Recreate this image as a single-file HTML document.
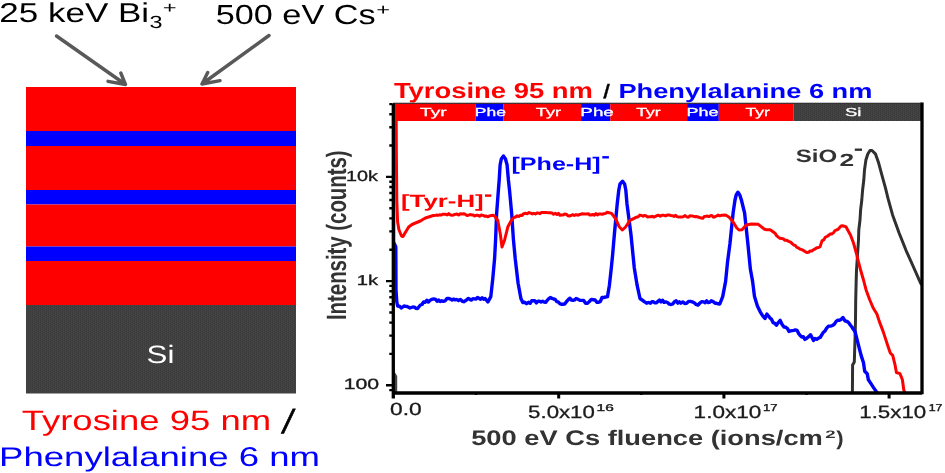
<!DOCTYPE html>
<html><head><meta charset="utf-8"><title>ToF-SIMS depth profile</title>
<style>
html,body{margin:0;padding:0;background:#fff;width:945px;height:473px;overflow:hidden}
svg{display:block}
text{font-family:"Liberation Sans", Arial, sans-serif;text-rendering:geometricPrecision}
</style></head><body>
<svg width="945" height="473" viewBox="0 0 945 473">
<defs><pattern id="dots" width="4" height="2" patternUnits="userSpaceOnUse"><rect width="4" height="2" fill="#434343"/><rect x="0" y="0" width="1" height="1" fill="#383838"/><rect x="2" y="1" width="1" height="1" fill="#383838"/></pattern><clipPath id="pc"><rect x="393" y="121" width="529" height="272.5"/></clipPath></defs>
<rect width="945" height="473" fill="#fff"/>
<path d="M56.5,36 L125.5,84.5 M120.8,73 L125.5,84.5 L108,81.3" fill="none" stroke="#595959" stroke-width="3.4" stroke-linecap="round" stroke-linejoin="round"/>
<path d="M269,35.5 L202,84 M207.7,72.5 L202,84 L220,80.6" fill="none" stroke="#595959" stroke-width="3.4" stroke-linecap="round" stroke-linejoin="round"/>
<rect x="26" y="87" width="270" height="44" fill="#ff0000"/>
<rect x="26" y="131" width="270" height="15" fill="#0000ff"/>
<rect x="26" y="146" width="270" height="44" fill="#ff0000"/>
<rect x="26" y="190" width="270" height="14.5" fill="#0000ff"/>
<rect x="26" y="204.5" width="270" height="42.0" fill="#ff0000"/>
<rect x="26" y="246.5" width="270" height="14.5" fill="#0000ff"/>
<rect x="26" y="261" width="270" height="44" fill="#ff0000"/>
<rect x="26" y="305" width="270" height="88.5" fill="url(#dots)"/>
<text x="-0.75" y="21.90" style="font-size:27.20px;fill:#000" textLength="149.83" lengthAdjust="spacingAndGlyphs">25 keV Bi</text>
<text x="149.52" y="27.92" style="font-size:17.67px;fill:#000" textLength="13.00" lengthAdjust="spacingAndGlyphs">3</text>
<text x="162.87" y="12.49" style="font-size:15.92px;fill:#000" textLength="13.90" lengthAdjust="spacingAndGlyphs">+</text>
<text x="215.73" y="23.80" style="font-size:27.49px;fill:#000" textLength="159.85" lengthAdjust="spacingAndGlyphs">500 eV Cs</text>
<text x="376.28" y="15.09" style="font-size:15.92px;fill:#000" textLength="13.78" lengthAdjust="spacingAndGlyphs">+</text>
<text x="146.59" y="363.35" style="font-size:25.17px;fill:#fff" textLength="27.79" lengthAdjust="spacingAndGlyphs">Si</text>
<text x="21.68" y="430.20" style="font-size:28.07px;fill:#ff0000" textLength="249.45" lengthAdjust="spacingAndGlyphs">Tyrosine 95 nm</text>
<text transform="translate(281.37,432.97) skewX(-11.55)" x="0" y="0" style="font-size:33.20px;fill:#000;stroke:#000;stroke-width:0.7px">/</text>
<text x="-0.91" y="466.00" style="font-size:27.05px;fill:#0000ff" textLength="320.84" lengthAdjust="spacingAndGlyphs">Phenylalanine 6 nm</text>
<text x="393.93" y="98.30" style="font-size:21.67px;font-weight:bold;fill:#ff0000" textLength="198.97" lengthAdjust="spacingAndGlyphs">Tyrosine 95 nm</text>
<text transform="translate(603.24,98.11) skewX(-5.08)" x="0" y="0" style="font-size:19.46px;font-weight:bold;fill:#000;stroke:#000;stroke-width:0.4px">/</text>
<text x="618.46" y="98.20" style="font-size:20.36px;font-weight:bold;fill:#0000ff" textLength="253.92" lengthAdjust="spacingAndGlyphs">Phenylalanine 6 nm</text>
<rect x="393" y="103.5" width="82.70" height="17.5" fill="#ff0000"/>
<rect x="475.7" y="103.5" width="27.60" height="17.5" fill="#0000ff"/>
<rect x="503.3" y="103.5" width="77.80" height="17.5" fill="#ff0000"/>
<rect x="581.1" y="103.5" width="29.20" height="17.5" fill="#0000ff"/>
<rect x="610.3" y="103.5" width="76.80" height="17.5" fill="#ff0000"/>
<rect x="687.1" y="103.5" width="31.70" height="17.5" fill="#0000ff"/>
<rect x="718.8" y="103.5" width="74.50" height="17.5" fill="#ff0000"/>
<rect x="793.3" y="103.5" width="128.70" height="17.5" fill="url(#dots)"/>
<text x="420.07" y="116.10" style="font-size:11.64px;fill:#fff;stroke:#fff;stroke-width:0.3px" textLength="26.44" lengthAdjust="spacingAndGlyphs">Tyr</text>
<text x="474.86" y="116.10" style="font-size:11.64px;fill:#fff;stroke:#fff;stroke-width:0.3px" textLength="31.12" lengthAdjust="spacingAndGlyphs">Phe</text>
<text x="535.89" y="116.10" style="font-size:11.64px;fill:#fff;stroke:#fff;stroke-width:0.3px" textLength="25.10" lengthAdjust="spacingAndGlyphs">Tyr</text>
<text x="580.35" y="116.10" style="font-size:11.64px;fill:#fff;stroke:#fff;stroke-width:0.3px" textLength="33.49" lengthAdjust="spacingAndGlyphs">Phe</text>
<text x="636.31" y="116.10" style="font-size:11.64px;fill:#fff;stroke:#fff;stroke-width:0.3px" textLength="24.38" lengthAdjust="spacingAndGlyphs">Tyr</text>
<text x="686.62" y="116.10" style="font-size:11.64px;fill:#fff;stroke:#fff;stroke-width:0.3px" textLength="31.98" lengthAdjust="spacingAndGlyphs">Phe</text>
<text x="745.50" y="116.10" style="font-size:11.64px;fill:#fff;stroke:#fff;stroke-width:0.3px" textLength="24.38" lengthAdjust="spacingAndGlyphs">Tyr</text>
<text x="844.97" y="116.10" style="font-size:11.64px;fill:#fff;stroke:#fff;stroke-width:0.3px" textLength="16.47" lengthAdjust="spacingAndGlyphs">Si</text>
<g clip-path="url(#pc)">
<polyline points="852.4,393.0 852.6,365.0 854.3,362.0 855.0,340.0 855.5,320.0 855.7,300.0 856.2,280.0 856.5,270.0 857.5,255.0 858.5,240.0 858.8,230.0 860.0,220.0 860.6,210.0 861.8,200.0 862.6,190.0 863.8,180.0 864.5,170.0 865.9,160.0 867.8,154.0 870.0,150.5 872.0,150.5 875.4,153.8 878.6,162.8 881.7,174.3 885.5,188.2 888.0,198.4 892.5,214.7 899.2,233.3 906.0,250.3 912.8,265.5 919.6,280.8 921.0,284.0" fill="none" stroke="#303030" stroke-width="3.0" stroke-linejoin="round" stroke-linecap="round"/>
<polyline points="393.6,121.0 393.6,242.0 395.8,247.0 396.0,290.0 396.8,302.0 397.6,306.0 399.5,306.2 401.4,308.0 404.0,306.0 405.6,306.4 407.1,306.5 410.0,308.0 412.8,307.0 414.4,307.1 416.0,308.3 417.6,308.5 420.4,305.0 422.0,304.5 423.6,301.9 425.2,302.3 426.8,300.2 428.4,302.0 430.0,300.4 431.9,299.3 433.7,298.9 435.6,299.4 437.1,301.3 438.7,300.1 440.2,301.5 441.8,300.8 443.3,301.3 445.2,300.8 447.1,298.4 449.0,298.5 450.5,299.1 452.0,300.0 453.6,299.1 455.1,299.9 456.6,299.4 458.5,300.5 460.4,299.4 462.3,301.3 463.8,301.7 465.3,300.8 466.9,299.6 468.4,298.4 469.9,299.4 471.4,300.1 472.9,298.6 474.5,298.9 476.0,299.0 477.5,297.5 479.0,298.3 480.5,299.2 482.1,297.8 483.6,299.2 485.1,298.5 487.9,302.0 490.8,296.6 492.7,279.4 494.6,258.5 495.6,239.5 496.6,214.0 498.4,190.0 499.2,180.0 500.1,165.0 501.3,159.0 503.4,156.0 505.5,159.0 507.1,165.0 508.4,180.0 509.5,190.0 511.7,214.0 513.4,239.3 515.2,258.5 518.1,283.3 520.9,298.5 522.8,302.5 524.7,302.3 526.6,303.7 528.5,302.3 530.1,303.3 531.7,300.8 533.2,300.7 534.8,300.8 536.4,302.9 538.0,301.3 539.5,301.3 541.0,302.1 542.6,301.3 544.1,302.1 545.6,302.3 547.2,300.4 548.8,298.7 550.4,297.5 552.0,298.4 553.6,299.0 555.2,299.4 556.7,301.6 558.2,301.9 559.8,303.6 561.3,304.3 562.8,304.2 564.7,304.1 566.6,301.5 568.5,299.4 570.0,298.2 571.5,300.1 573.1,300.3 574.6,299.9 576.1,298.5 578.0,299.3 579.9,300.4 581.8,300.4 583.7,300.5 585.6,303.3 587.5,303.2 589.4,301.5 591.3,299.4 593.2,299.7 595.1,300.0 597.0,302.3 598.7,302.2 600.4,301.4 602.0,297.5 603.7,297.5 607.5,296.6 609.4,285.2 611.3,268.0 612.6,255.0 614.4,234.0 617.2,204.0 618.8,190.0 620.0,184.0 622.6,181.3 624.6,184.0 625.8,190.0 627.0,204.0 630.9,234.0 632.4,249.0 634.3,268.0 637.1,285.2 640.0,298.5 644.7,301.9 646.6,303.2 648.5,302.5 650.4,303.2 651.9,301.8 653.4,301.8 655.0,302.9 656.5,302.8 658.0,301.3 659.5,300.1 661.0,301.9 662.6,300.3 664.1,302.4 665.6,301.9 667.5,302.5 669.4,304.2 671.1,304.5 672.8,303.9 674.4,301.7 676.1,300.8 677.7,303.1 679.3,301.8 680.9,303.2 682.8,301.9 684.7,303.5 686.6,303.2 688.5,301.4 690.4,301.4 692.3,301.9 694.2,302.7 696.1,304.4 698.0,305.1 699.9,303.0 701.8,301.6 703.7,301.9 705.2,302.8 706.7,300.9 708.3,302.6 709.8,302.2 711.3,300.8 713.2,301.6 715.1,303.2 716.7,303.3 718.2,303.8 719.8,304.0 722.7,296.6 725.6,281.4 727.5,262.3 729.9,244.0 733.1,213.0 735.0,200.0 736.2,195.0 737.9,192.2 739.8,195.0 741.4,200.0 744.6,213.0 747.9,244.0 750.4,269.3 752.6,281.4 754.5,296.6 757.4,306.1 760.2,311.8 761.8,314.5 763.4,316.6 765.0,318.5 766.9,314.1 768.5,316.0 770.0,318.0 771.6,319.4 773.2,322.7 774.8,323.3 776.4,325.2 778.3,322.6 780.2,320.4 782.1,324.4 784.0,327.1 785.6,327.3 787.3,328.4 789.0,331.4 790.6,330.9 792.2,330.6 793.8,330.4 795.4,329.9 797.0,330.3 798.6,333.4 800.2,335.6 801.8,337.1 803.3,336.7 804.9,339.4 806.8,338.2 808.7,336.7 810.6,334.7 813.5,340.4 815.1,338.4 816.8,339.3 818.5,338.1 820.1,337.5 823.0,332.8 824.9,331.1 826.8,327.9 828.7,326.1 830.6,326.1 832.5,325.5 834.4,324.2 836.0,321.5 837.5,320.3 839.1,320.4 841.0,319.5 843.0,317.5 845.0,320.9 847.1,321.5 848.7,322.6 850.3,325.0 851.9,327.0 853.5,329.5 855.0,331.5 858.6,345.7 861.1,355.4 863.5,362.7 864.7,371.2 867.2,373.7 868.4,379.8 870.8,383.4 873.2,387.1 876.9,392.5" fill="none" stroke="#0000ff" stroke-width="3.4" stroke-linejoin="round" stroke-linecap="round"/>
<polyline points="396.2,121.0 396.4,158.0 396.8,200.0 397.6,222.0 399.0,230.0 401.5,236.0 403.0,236.5 405.0,233.0 408.7,227.0 412.0,224.5 415.5,223.0 420.3,221.0 425.4,218.0 431.7,216.0 433.3,215.5 434.9,215.4 436.4,215.1 438.0,215.3 439.5,214.8 441.1,215.1 442.6,214.3 444.2,214.3 445.7,214.3 447.2,215.0 448.7,213.6 450.3,214.9 451.8,215.3 453.3,215.0 455.1,214.4 456.9,214.0 458.6,215.0 460.4,213.7 462.2,214.0 463.8,213.7 465.4,214.5 467.0,215.4 468.6,215.3 470.1,214.5 471.6,214.9 473.2,215.0 474.7,216.0 476.2,215.3 477.9,215.3 479.6,216.2 481.2,215.0 482.9,215.4 484.6,216.2 486.3,216.0 488.0,216.8 489.6,215.9 491.3,215.5 492.9,215.2 494.6,216.0 497.8,220.4 500.3,234.0 502.0,247.0 504.6,240.0 507.9,226.7 511.7,219.8 514.0,217.5 515.5,217.0 517.1,215.8 518.7,216.5 520.2,215.3 522.0,215.4 523.7,213.6 525.5,213.2 527.2,213.8 529.0,212.6 530.6,213.2 532.2,213.9 533.8,213.3 535.4,214.0 536.9,213.0 538.4,213.0 540.0,213.7 541.5,212.4 543.0,212.6 544.8,212.4 546.6,212.6 548.3,212.7 550.1,212.7 551.9,213.0 553.6,214.3 555.3,213.3 557.0,214.5 558.5,213.4 560.0,215.2 561.6,215.0 563.1,215.1 564.6,214.0 566.2,214.2 567.8,215.7 569.4,216.0 571.0,215.5 572.7,214.7 574.3,215.5 576.0,214.7 577.5,215.2 579.1,214.7 580.6,214.3 582.2,213.7 583.7,214.0 585.2,213.9 586.7,213.9 588.3,213.7 589.8,215.0 591.3,215.0 592.8,214.4 594.3,215.2 595.9,213.5 597.4,215.0 598.9,214.0 600.5,214.0 602.2,214.2 603.8,213.8 605.5,213.4 607.1,212.3 611.6,213.4 615.4,218.5 619.2,226.7 622.4,230.0 625.6,227.0 630.0,220.4 636.5,217.2 638.2,216.8 639.9,215.1 641.6,215.5 643.1,216.3 644.6,215.4 646.2,215.9 647.7,216.9 649.2,216.8 650.8,216.7 652.4,216.3 654.0,217.1 655.5,216.3 657.1,215.5 658.7,215.2 660.3,216.2 661.9,215.3 663.7,215.3 665.5,215.9 667.2,215.1 669.0,214.9 670.8,215.5 672.4,215.7 674.0,216.4 675.6,215.3 677.1,216.6 678.7,217.0 680.3,216.9 681.9,217.1 683.5,216.6 685.1,215.6 686.7,216.9 688.3,217.3 689.9,215.7 691.4,216.1 693.0,216.1 694.6,216.7 696.2,216.6 697.9,216.9 699.6,217.5 701.3,218.0 702.8,218.3 704.3,216.4 705.9,216.3 707.4,216.1 708.9,216.6 710.4,215.7 711.9,215.5 713.5,217.2 715.0,216.8 716.5,216.0 718.1,215.1 719.7,215.8 721.2,215.3 722.8,215.2 724.4,215.1 726.0,215.3 729.2,217.2 733.0,221.7 736.8,228.0 739.0,230.0 742.0,229.8 746.2,225.0 751.5,224.0 758.3,224.3 764.0,228.9 765.5,229.6 767.0,229.8 768.6,229.8 770.1,229.8 771.6,230.8 773.3,232.0 775.0,233.2 776.6,235.6 778.3,237.1 779.9,238.3 781.6,238.5 783.2,238.7 784.9,240.3 786.8,240.3 788.7,241.3 790.6,242.2 792.1,243.5 793.7,245.0 795.2,245.4 796.8,247.4 798.3,247.9 800.0,249.1 801.7,249.6 803.4,250.4 805.1,251.6 806.8,252.5 808.5,252.2 810.1,251.0 811.8,250.9 813.5,249.8 815.1,248.9 816.8,247.7 818.5,247.5 820.1,246.6 822.0,240.9 823.7,239.9 825.4,237.2 827.0,236.5 828.7,235.2 830.2,234.0 831.7,233.9 833.3,233.0 834.8,230.8 836.3,230.0 837.9,229.5 839.4,227.9 841.0,226.0 842.6,225.7 844.2,226.3 845.8,226.6 850.6,235.2 853.5,243.0 856.3,253.0 858.5,262.0 860.6,270.0 863.5,280.0 866.0,289.7 869.6,299.5 873.2,308.0 876.9,314.0 879.3,321.4 883.0,331.1 885.4,338.4 887.8,345.7 890.3,353.0 892.7,355.4 895.1,365.2 896.4,372.5 900.0,373.7 902.4,379.8 903.7,389.5 904.9,393.0" fill="none" stroke="#ff0000" stroke-width="3.0" stroke-linejoin="round" stroke-linecap="round"/>
<polygon points="393.5,370 397.2,376 397.2,392.5 393.5,392.5" fill="#444"/>
</g>
<path d="M393.3,103.3 L393.3,398.5 M392,393 L922,393 M922,102.6 L922,394.2" stroke="#000" stroke-width="3.3" fill="none"/>
<path d="M393,103.2 L922,103.2" stroke="#111" stroke-width="1.1"/>
<path d="M389.3,390.1 L392,390.1 M386,385.3 L392,385.3 M389.3,353.9 L392,353.9 M389.3,335.6 L392,335.6 M389.3,322.6 L392,322.6 M389.3,312.5 L392,312.5 M389.3,304.2 L392,304.2 M389.3,297.2 L392,297.2 M389.3,291.2 L392,291.2 M389.3,285.9 L392,285.9 M386,281.1 L392,281.1 M389.3,249.7 L392,249.7 M389.3,231.4 L392,231.4 M389.3,218.4 L392,218.4 M389.3,208.3 L392,208.3 M389.3,200.0 L392,200.0 M389.3,193.0 L392,193.0 M389.3,187.0 L392,187.0 M389.3,181.7 L392,181.7 M386,176.9 L392,176.9 M389.3,145.5 L392,145.5 M389.3,127.2 L392,127.2 M389.3,114.2 L392,114.2 M389.3,104.1 L392,104.1" stroke="#000" stroke-width="2.4"/>
<path d="M558.7,394 L558.7,398.5 M723.9,394 L723.9,398.5 M889.1,394 L889.1,398.5" stroke="#000" stroke-width="3"/>
<path d="M476.1,394 L476.1,395 M641.3,394 L641.3,395 M806.5,394 L806.5,395" stroke="#000" stroke-width="2.4"/>
<text x="346.12" y="180.70" style="font-size:14.69px;fill:#1a1a1a;stroke:#1a1a1a;stroke-width:0.35px" textLength="31.88" lengthAdjust="spacingAndGlyphs">10k</text>
<text x="356.68" y="284.90" style="font-size:14.11px;fill:#1a1a1a;stroke:#1a1a1a;stroke-width:0.35px" textLength="21.34" lengthAdjust="spacingAndGlyphs">1k</text>
<text x="343.71" y="389.20" style="font-size:14.84px;fill:#1a1a1a;stroke:#1a1a1a;stroke-width:0.35px" textLength="35.41" lengthAdjust="spacingAndGlyphs">100</text>
<text x="390.09" y="415.00" style="font-size:17.60px;fill:#1a1a1a;stroke:#1a1a1a;stroke-width:0.3px" textLength="31.67" lengthAdjust="spacingAndGlyphs">0.0</text>
<text x="528.11" y="418.30" style="font-size:17.75px;fill:#1a1a1a;stroke:#1a1a1a;stroke-width:0.3px" textLength="66.72" lengthAdjust="spacingAndGlyphs">5.0x10</text>
<text x="596.64" y="410.50" style="font-size:9.75px;fill:#1a1a1a;stroke:#1a1a1a;stroke-width:0.4px" textLength="17.15" lengthAdjust="spacingAndGlyphs">16</text>
<text x="693.61" y="418.30" style="font-size:17.75px;fill:#1a1a1a;stroke:#1a1a1a;stroke-width:0.3px" textLength="67.64" lengthAdjust="spacingAndGlyphs">1.0x10</text>
<text x="763.03" y="410.60" style="font-size:10.04px;fill:#1a1a1a;stroke:#1a1a1a;stroke-width:0.4px" textLength="14.45" lengthAdjust="spacingAndGlyphs">17</text>
<text x="859.23" y="418.30" style="font-size:17.75px;fill:#1a1a1a;stroke:#1a1a1a;stroke-width:0.3px" textLength="67.01" lengthAdjust="spacingAndGlyphs">1.5x10</text>
<text x="928.78" y="410.60" style="font-size:10.04px;fill:#1a1a1a;stroke:#1a1a1a;stroke-width:0.4px" textLength="13.66" lengthAdjust="spacingAndGlyphs">17</text>
<text x="400.98" y="207.20" style="font-size:17.75px;font-weight:bold;fill:#ff0000" textLength="82.76" lengthAdjust="spacingAndGlyphs">[Tyr-H]</text>
<rect x="485" y="194.4" width="6.3" height="2.4" fill="#ff0000"/>
<text x="511.52" y="169.60" style="font-size:18.33px;font-weight:bold;fill:#0000ff" textLength="89.16" lengthAdjust="spacingAndGlyphs">[Phe-H]</text>
<rect x="602.3" y="156.1" width="6.6" height="2.4" fill="#0000ff"/>
<text x="795.68" y="161.60" style="font-size:17.89px;font-weight:bold;fill:#333333" textLength="41.45" lengthAdjust="spacingAndGlyphs">SiO</text>
<text x="839.48" y="165.80" style="font-size:17.63px;font-weight:bold;fill:#333333" textLength="14.64" lengthAdjust="spacingAndGlyphs">2</text>
<rect x="854.8" y="148.5" width="7.2" height="2.4" fill="#333333"/>
<text x="471.18" y="444.80" style="font-size:21.09px;font-weight:bold;fill:#333333" textLength="351.71" lengthAdjust="spacingAndGlyphs">500 eV Cs fluence (ions/cm</text>
<text x="825.35" y="437.90" style="font-size:10.90px;font-weight:bold;fill:#333333" textLength="10.37" lengthAdjust="spacingAndGlyphs">2</text>
<text x="836.24" y="444.76" style="font-size:19.95px;font-weight:bold;fill:#333333" textLength="7.37" lengthAdjust="spacingAndGlyphs">)</text>
<text transform="translate(345.8,318.7) rotate(-90) scale(1,1.371)" x="-1.37" y="0" style="font-size:20.37px;font-weight:bold;fill:#333333">Intensity (counts)</text>
</svg>
</body></html>
